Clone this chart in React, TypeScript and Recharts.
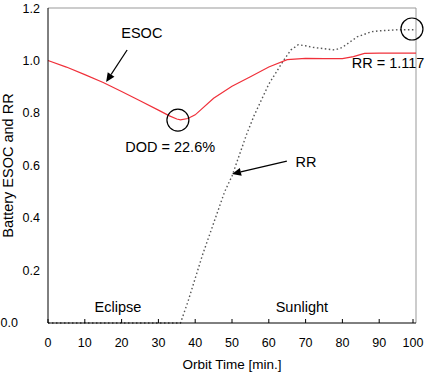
import {
  LineChart,
  Line,
  XAxis,
  YAxis,
  ReferenceDot,
  ReferenceLine,
} from 'recharts';

// orbit time [min.] and series values
const esocTime = [0, 5, 10, 15, 20, 25, 30, 33, 35, 36, 38, 40, 45, 50, 55, 60, 65, 70, 75, 80, 83, 86, 90, 95, 100];
const esocValue = [1.0, 0.975, 0.946, 0.916, 0.882, 0.847, 0.811, 0.789, 0.777, 0.774, 0.779, 0.793, 0.856, 0.902, 0.938, 0.975, 1.003, 1.008, 1.007, 1.007, 1.015, 1.027, 1.028, 1.028, 1.028];

const rrTime = [0, 5, 10, 15, 20, 25, 30, 35, 36, 38, 40, 42, 44, 46, 48, 50, 52, 54, 56, 58, 60, 62, 64, 66, 68, 70, 72, 75, 78, 80, 82, 84, 86, 88, 90, 95, 100];
const rrValue = [0, 0, 0, 0, 0, 0, 0, 0, 0, 0.08, 0.17, 0.26, 0.34, 0.42, 0.5, 0.56, 0.64, 0.72, 0.79, 0.85, 0.91, 0.955, 1.0, 1.04, 1.06, 1.056, 1.05, 1.045, 1.04, 1.05, 1.07, 1.09, 1.1, 1.11, 1.113, 1.117, 1.117];

const xTicks = [0, 10, 20, 30, 40, 50, 60, 70, 80, 90, 100];
const yTicks = [0, 0.2, 0.4, 0.6, 0.8, 1.0, 1.2];

const esocData = esocTime.map((t, i) => ({ t, v: esocValue[i] }));
const rrData = rrTime.map((t, i) => ({ t, v: rrValue[i] }));

const FONT = 'Arial, "Liberation Sans", sans-serif';

const XTick = ({ x, y, payload }: any) => (
  <g>
    <line x1={x} x2={x} y1={y - 15} y2={y - 19} stroke="#000" />
    <text x={x} y={y} dy="0.71em" textAnchor="middle" fontSize={12.5} fill="#000" fontFamily={FONT}>
      {payload.value}
    </text>
  </g>
);

const YTick = ({ x, y, payload }: any) => (
  // the 0.0 label sits further left in the original
  <text
    x={payload.value === 0 ? x - 22 : x}
    y={y}
    dy="0.355em"
    textAnchor="end"
    fontSize={12.5}
    fill="#000"
    fontFamily={FONT}
  >
    {payload.value.toFixed(1)}
  </text>
);

const Arrow = (props: any) => {
  const { x1, y1, x2, y2 } = props;
  if (x1 == null) return null;
  const a = Math.atan2(y2 - y1, x2 - x1);
  const len = 9;
  const w = 4;
  const bx = x2 - len * Math.cos(a);
  const by = y2 - len * Math.sin(a);
  const px = -Math.sin(a) * w;
  const py = Math.cos(a) * w;
  return (
    <g>
      <line x1={x1} y1={y1} x2={bx} y2={by} stroke="#000" strokeWidth={1.3} />
      <polygon points={`${x2},${y2} ${bx + px},${by + py} ${bx - px},${by - py}`} fill="#000" />
    </g>
  );
};

const textLabel = (value: string) => ({
  value,
  position: 'center' as const,
  fill: '#000',
  fontSize: 14.5,
  fontFamily: FONT,
});

export default function App() {
  return (
    <div style={{ position: 'absolute', left: 0, top: 0, background: '#fff' }}>
      <LineChart width={425} height={375} margin={{ top: 8, right: 9, bottom: 22, left: 8 }}>
        <XAxis
          dataKey="t"
          type="number"
          domain={[0, 100]}
          ticks={xTicks}
          tick={<XTick />}
          tickSize={0}
          tickMargin={15}
          axisLine={{ stroke: '#000' }}
          height={30}
          label={{
            value: 'Orbit Time [min.]',
            position: 'bottom',
            offset: 6,
            fill: '#000',
            fontSize: 13.5,
            fontFamily: FONT,
          }}
        />
        <YAxis
          type="number"
          domain={[0, 1.2]}
          ticks={yTicks}
          tick={<YTick />}
          tickSize={0}
          tickMargin={8}
          axisLine={{ stroke: '#000' }}
          width={40}
          label={{
            value: 'Battery ESOC and RR',
            angle: -90,
            position: 'insideLeft',
            offset: 0,
            fill: '#000',
            fontSize: 14.5,
            fontFamily: FONT,
            style: { textAnchor: 'middle' },
          }}
        />
        <ReferenceLine y={1.2} stroke="#999" />
        <ReferenceLine x={100} stroke="#999" />
        <Line
          data={rrData}
          dataKey="v"
          stroke="#555"
          strokeWidth={1.4}
          strokeDasharray="1.5 2.5"
          dot={false}
          isAnimationActive={false}
        />
        <Line
          data={esocData}
          dataKey="v"
          stroke="#f0303a"
          strokeWidth={1.2}
          dot={false}
          isAnimationActive={false}
        />
        <ReferenceDot x={35.3} y={0.773} r={11} fill="none" stroke="#000" strokeWidth={1.2} />
        <ReferenceDot x={98.9} y={1.12} r={11} fill="none" stroke="#000" strokeWidth={1.2} />
        <ReferenceLine segment={[{ x: 21.5, y: 1.04 }, { x: 15.8, y: 0.918 }]} shape={<Arrow />} />
        <ReferenceLine segment={[{ x: 64.9, y: 0.617 }, { x: 50.0, y: 0.568 }]} shape={<Arrow />} />
        <ReferenceDot x={25.5} y={1.105} r={0} label={textLabel('ESOC')} />
        <ReferenceDot x={33.2} y={0.67} r={0} label={textLabel('DOD = 22.6%')} />
        <ReferenceDot x={70.1} y={0.613} r={0} label={textLabel('RR')} />
        <ReferenceDot x={92.4} y={0.99} r={0} label={textLabel('RR = 1.117')} />
        <ReferenceDot x={19} y={0.061} r={0} label={textLabel('Eclipse')} />
        <ReferenceDot x={69} y={0.061} r={0} label={textLabel('Sunlight')} />
      </LineChart>
    </div>
  );
}
